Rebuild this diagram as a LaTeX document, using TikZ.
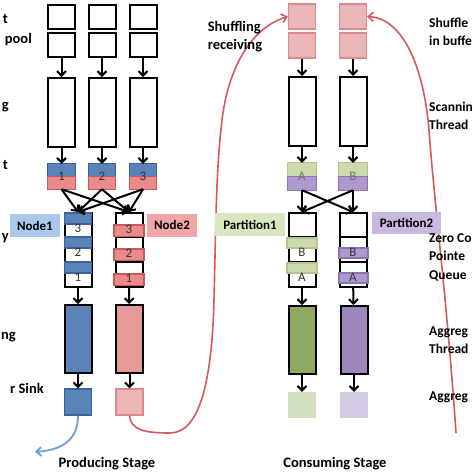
\documentclass[tikz,border=0pt]{standalone}
\usepackage{fontspec}
\setmainfont{Carlito}[BoldFont={Carlito Bold}]
\usetikzlibrary{arrows.meta}
\definecolor{blueF}{HTML}{5A84B9}
\definecolor{blueD}{HTML}{3B649A}
\definecolor{redF}{HTML}{E8999A}
\definecolor{redD}{HTML}{C65A5C}
\definecolor{redL}{HTML}{EAB6B7}
\definecolor{redLD}{HTML}{D98A8C}
\definecolor{greenF}{HTML}{8EAA62}
\definecolor{greenL}{HTML}{D3E0BF}
\definecolor{greenB}{HTML}{CCDBAE}
\definecolor{greenBD}{HTML}{B3C58C}
\definecolor{purpF}{HTML}{9E87BE}
\definecolor{purpL}{HTML}{D5CAE3}
\definecolor{purpB}{HTML}{AE98CE}
\definecolor{purpBD}{HTML}{8C74B0}
\definecolor{tagBlue}{HTML}{A9C8EA}
\definecolor{tagRed}{HTML}{F0A6A6}
\definecolor{tagGreen}{HTML}{D8E6C2}
\definecolor{tagPurp}{HTML}{C9B8DD}
\definecolor{curveRed}{HTML}{D9575E}
\definecolor{curveBlue}{HTML}{6F9ED0}
\definecolor{digit}{HTML}{333333}
\begin{document}
\begin{tikzpicture}[x=1pt,y=-1pt,
  box/.style={draw=black, line width=2pt, fill=white, minimum width=27pt, inner sep=0pt},
  arr/.style={-{Straight Barb[length=4.5pt,width=9pt]}, line width=2pt},
  lab/.style={font=\bfseries\fontsize{14.5}{18.5}\selectfont, align=left, inner sep=0pt},
  rlab/.style={font=\bfseries\fontsize{13.5}{18.5}\selectfont, align=left, inner sep=0pt, anchor=west},
  tagbox/.style={font=\bfseries\fontsize{13}{15}\selectfont, inner sep=0pt, minimum height=23pt},
  dig/.style={font=\fontsize{13}{14}\selectfont, text=digit, inner sep=0pt},
  band/.style={line width=1.3pt},
  curveR/.style={draw=curveRed, line width=1.6pt, -{Straight Barb[length=5pt,width=9pt]}},
  curveB/.style={draw=curveBlue, line width=1.8pt, -{Straight Barb[length=5pt,width=9pt]}}
]
\useasboundingbox (0,0) rectangle (474,474);
\clip (0,0) rectangle (474,474);
\fill[white] (0,0) rectangle (474,474);

\coordinate (r2Start) at (456,433);

% ---------------- producing stage ----------------
\foreach \n/\x in {1/61.5,2/102,3/143}{
  \node[box, minimum height=24pt] (pin\n) at (\x,17) {};
  \node[box, minimum height=24pt] (pbuf\n) at (\x,45) {};
  \node[box, minimum height=69pt] (pscan\n) at (\x,112.5) {};
  \node[minimum width=27pt, minimum height=25pt, inner sep=0pt] (pp\n) at (\x,176.5) {};
  \filldraw[band, fill=blueF, draw=blueD] (pp\n.north west) rectangle (pp\n.east);
  \filldraw[band, fill=redF!90!red, draw=redD] (pp\n.west) rectangle (pp\n.south east);
  \node[dig] at (pp\n) {\n};
  \draw[arr] (pbuf\n) -- (pscan\n);
  \draw[arr] (pscan\n) -- (pp\n);
}

% queues Node1 / Node2
\node[box, minimum height=24pt] (qa3) at (78,225) {};
\node[box, minimum height=25pt] (qa2) at (78,249.5) {};
\node[box, minimum height=25pt] (qa1) at (78,274.5) {};
\node[box, minimum height=24pt] (qb3) at (129,225) {};
\node[box, minimum height=25pt] (qb2) at (129,249.5) {};
\node[box, minimum height=25pt] (qb1) at (129,274.5) {};
\foreach \t/\l in {213/3,237/2,262/1}{
  \filldraw[band, fill=blueF, draw=blueD] (64.5,\t) rectangle (91.5,\t+11);
  \node[dig] at (78,\t+15) {\l};
  \filldraw[band, fill=redF!90!red, draw=redD] (114,\t+12) rectangle (144,\t+23.5);
  \node[dig] at (129,\t+16) {\l};
}
\foreach \n in {1,2,3}{
  \draw[arr] (pp\n.south) -- (qa3.north);
  \draw[arr] (pp\n.south) -- (qb3.north);
}

\node[box, fill=blueF, minimum height=68pt] (pagg1) at (78,339) {};
\node[box, fill=redF, minimum height=68pt] (pagg2) at (129.5,339) {};
\node[draw=blueD, fill=blueF, line width=1.3pt, minimum width=27pt, minimum height=26pt, inner sep=0pt] (psink1) at (78,402) {};
\node[draw=redLD, fill=redL, line width=1.3pt, minimum width=27pt, minimum height=26pt, inner sep=0pt] (psink2) at (129.5,402) {};
\draw[arr] (qa1) -- (pagg1);
\draw[arr] (qb1) -- (pagg2);
\draw[arr] (pagg1) -- (psink1);
\draw[arr] (pagg2) -- (psink2);

% ---------------- consuming stage ----------------
\foreach \n/\x in {1/302,2/353}{
  \node[draw=redLD, fill=redL, line width=1.3pt, minimum width=27pt, minimum height=25pt, inner sep=0pt] (crecv\n) at (\x,16.5) {};
  \node[draw=redLD, fill=redL, line width=1.3pt, minimum width=27pt, minimum height=25pt, inner sep=0pt] (cbuf\n) at (\x,45.5) {};
  \node[box, minimum height=69pt] (cscan\n) at (\x,111.5) {};
  \node[minimum width=28pt, minimum height=27pt, inner sep=0pt] (cp\n) at (\x,176.5) {};
  \filldraw[band, fill=greenB, draw=greenBD] (cp\n.north west) rectangle (cp\n.east);
  \filldraw[band, fill=purpB, draw=purpBD] (cp\n.west) rectangle (cp\n.south east);
  \draw[arr] (cbuf\n) -- (cscan\n);
  \draw[arr] (cscan\n) -- (cp\n);
}
\node[dig, text=digit!70] at (cp1) {A};
\node[dig, text=digit!70] at (cp2) {B};

\node[box, minimum height=24pt] (ca3) at (302,225) {};
\node[box, minimum height=25pt] (ca2) at (302,249.5) {};
\node[box, minimum height=25pt] (ca1) at (302,274.5) {};
\node[box, minimum height=24pt] (cb3) at (353,225) {};
\node[box, minimum height=25pt] (cb2) at (353,249.5) {};
\node[box, minimum height=25pt] (cb1) at (353,274.5) {};
\foreach \t/\l in {237/B,262/A}{
  \filldraw[band, fill=greenB, draw=greenBD] (287,\t+1) rectangle (317,\t+11);
  \node[dig] at (302,\t+15) {\l};
  \filldraw[band, fill=purpB, draw=purpBD] (339,\t+11) rectangle (368,\t+21);
  \node[dig] at (353,\t+15) {\l};
}
\foreach \n in {1,2}{
  \draw[arr] (cp\n.south) -- (ca3.north);
  \draw[arr] (cp\n.south) -- (cb3.north);
}

\node[box, fill=greenF, minimum height=68pt] (cagg1) at (302,340) {};
\node[box, fill=purpF, minimum height=68pt] (cagg2) at (354,340) {};
\node[fill=greenL, minimum width=28pt, minimum height=26pt, inner sep=0pt] (cres1) at (302,405) {};
\node[fill=purpL, minimum width=28pt, minimum height=26pt, inner sep=0pt] (cres2) at (354,405) {};
\draw[arr] (ca1) -- (cagg1);
\draw[arr] (cb1) -- (cagg2);
\draw[arr] (cagg1) -- (cres1);
\draw[arr] (cagg2) -- (cres2);

% ---------------- curves ----------------
\coordinate (bEnd) at (35,452);
\draw[curveB] (psink1.south) .. controls (78,440) and (62,450) .. (bEnd);
\draw[curveR] (psink2.south) .. controls (130.5,430) and (145,433) .. (170,433)
  .. controls (200,433) and (212,380) .. (214,300)
  .. controls (216,220) and (216,170) .. (222,120)
  .. controls (228,70) and (250,28) .. (crecv1.west);
\draw[curveR] (r2Start) .. controls (447,300) and (434,200) .. (429,130)
  .. controls (423,60) and (400,18) .. (crecv2.east);

% ---------------- tags ----------------
\node[tagbox, fill=tagBlue, minimum width=50pt] (tNode1) at (35,225.5) {Node1};
\node[tagbox, fill=tagRed, minimum width=50pt] (tNode2) at (172,225) {Node2};
\node[tagbox, fill=tagGreen, minimum width=70pt] (tPart1) at (250,224.5) {Partition1};
\node[tagbox, fill=tagPurp, minimum width=69pt, minimum height=22pt] (tPart2) at (406.5,223) {Partition2};

% ---------------- labels ----------------
\node[lab, anchor=east] (l1) at (8,19) {t};
\node[lab, anchor=east] (l2) at (32,40) {pool};
\node[lab, anchor=east] (l3) at (9,107) {g};
\node[lab, anchor=east] (l4) at (8,165) {t};
\node[lab, anchor=east] (l5) at (9,238) {y};
\node[lab, anchor=east] (l6) at (16,337) {ng};
\node[lab, anchor=east] (l7) at (44,388) {r Sink};

\node[lab] (shufrecv) at (235,36.5) {Shuffling\\receiving};
\node[rlab] (r1) at (429,32) {Shuffle\\in buffe};
\node[rlab] (r2) at (429,116) {Scannin\\Thread};
\node[rlab] (r3) at (429,257) {Zero Co\\Pointe\\Queue};
\node[rlab] (r4) at (429,340) {Aggreg\\Thread};
\node[rlab] (r5) at (429,397) {Aggreg};

\node[lab] (prodstage) at (107,464) {Producing Stage};
\node[lab] (consstage) at (335,464) {Consuming Stage};
\end{tikzpicture}
\end{document}
